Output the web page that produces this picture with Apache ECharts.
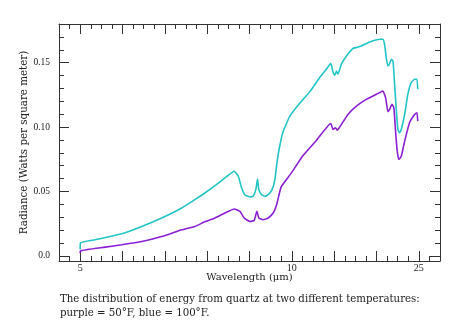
<!DOCTYPE html>
<html>
<head>
<meta charset="utf-8">
<script src="https://cdn.jsdelivr.net/npm/echarts@6/dist/echarts.min.js"></script>
<style>
  html, body { margin: 0; padding: 0; background: #fff; }
  #chart { width: 474px; height: 331px; }
</style>
</head>
<body>
<div id="chart"></div>
<script>
// Emission spectrum of quartz, radiance vs. wavenumber (cm^-1); the axis is labelled in wavelength (µm).
// Each entry: [wavenumber cm^-1, radiance W/m^2]

// blue curve, 100°F
const quartz100F = [
  [2000, 0.0050], [1999, 0.0099], [1929, 0.0125], [1803, 0.0171], [1709, 0.0228],
  [1615, 0.0294], [1520, 0.0372], [1458, 0.0436], [1411, 0.0488], [1363, 0.0545],
  [1316, 0.0605], [1272, 0.0657], [1253, 0.0618], [1237, 0.0527], [1222, 0.0475],
  [1198, 0.0457], [1183, 0.0462], [1170, 0.0514], [1162, 0.0597], [1156, 0.0514],
  [1143, 0.0475], [1128, 0.0462], [1112, 0.0475], [1093, 0.0514], [1080, 0.0592],
  [1072, 0.0700], [1062, 0.0810], [1043, 0.0956], [1010, 0.1083], [963, 0.1184],
  [915, 0.1275], [868, 0.1384], [837, 0.1449], [816, 0.1495], [805, 0.1423],
  [797, 0.1402], [789, 0.1435], [782, 0.1410], [766, 0.1488], [742, 0.1552],
  [711, 0.1610], [695, 0.1618], [672, 0.1630], [632, 0.1661], [585, 0.1682],
  [570, 0.1682], [562, 0.1643], [554, 0.1540], [546, 0.1474], [538, 0.1493],
  [530, 0.1526], [522, 0.1513], [515, 0.1345], [506, 0.1124], [499, 0.0981],
  [491, 0.0956], [483, 0.0981], [467, 0.1098], [452, 0.1254], [436, 0.1345],
  [420, 0.1371], [409, 0.1371], [405, 0.1293]
];

// purple curve, 50°F
const quartz50F = [
  [2000, 0.0020], [1999, 0.0039], [1882, 0.0068], [1803, 0.0086], [1709, 0.0111],
  [1615, 0.0150], [1520, 0.0202], [1458, 0.0228], [1411, 0.0265], [1363, 0.0294],
  [1316, 0.0333], [1272, 0.0364], [1245, 0.0345], [1225, 0.0294], [1198, 0.0267],
  [1178, 0.0275], [1165, 0.0345], [1156, 0.0294], [1136, 0.0280], [1112, 0.0294],
  [1088, 0.0333], [1072, 0.0397], [1057, 0.0498], [1049, 0.0540], [1002, 0.0644],
  [947, 0.0779], [884, 0.0896], [816, 0.1028], [805, 0.0981], [794, 0.0995],
  [785, 0.0976], [771, 0.1007], [735, 0.1098], [695, 0.1163], [648, 0.1215],
  [585, 0.1267], [570, 0.1280], [557, 0.1228], [546, 0.1119], [538, 0.1137],
  [527, 0.1176], [518, 0.1150], [510, 0.0968], [502, 0.0812], [494, 0.0748],
  [483, 0.0773], [467, 0.0890], [444, 0.1033], [420, 0.1098], [409, 0.1111],
  [405, 0.1046]
];

// axis ticks
const xLabelWavelengths = [5, 10, 25];                       // µm, labelled
const xMajorWavenumbers = [400, 600, 800, 1000, 1200, 1400, 1600, 1800, 2000];
const xMinorWavenumbers = [350, 450, 500, 550, 650, 700, 750, 850, 900, 950,
  1050, 1100, 1150, 1250, 1300, 1350, 1450, 1500, 1550, 1650, 1700, 1750,
  1850, 1900, 1950, 2050];
const yTickValues = [0, 0.05, 0.10, 0.15];
const yTickLabels = ['0.0', '0.05', '0.10', '0.15'];
const yMinorValues = [0.01, 0.02, 0.03, 0.04, 0.06, 0.07, 0.08, 0.09,
  0.11, 0.12, 0.13, 0.14, 0.16, 0.17];

const captionLines = [
  'The distribution of energy from quartz at two different temperatures:',
  'purple = 50°F, blue = 100°F.'
];

const FONT = 'DejaVu Serif';
const TICK_FONT = 'Liberation Serif';
const INK = '#222';
const frameStyle = { color: '#333', width: 1 };

function xAxisDef(position, ticks, len, withLine, withLabels) {
  return {
    type: 'value', min: 300, max: 2100, inverse: true, position: position,
    axisLine: { show: withLine, onZero: false, lineStyle: frameStyle },
    axisTick: { show: true, inside: true, length: len, customValues: ticks, lineStyle: frameStyle },
    axisLabel: withLabels ? {
      show: true, customValues: xLabelWavelengths.map(l => 10000 / l),
      formatter: v => String(Math.round(10000 / v)),
      margin: 2, fontFamily: TICK_FONT, fontSize: 10, color: INK
    } : { show: false },
    splitLine: { show: false },
    name: withLabels ? 'Wavelength (μm)' : '',
    nameLocation: 'middle', nameGap: 11, nameMoveOverlap: false,
    nameTextStyle: { fontFamily: FONT, fontSize: 10, color: INK }
  };
}

function yAxisDef(position, ticks, len, withLine, withLabels) {
  return {
    type: 'value', min: -0.004, max: 0.18, position: position,
    axisLine: { show: withLine, onZero: false, lineStyle: frameStyle },
    axisTick: { show: true, inside: true, length: len, customValues: ticks, lineStyle: frameStyle },
    axisLabel: withLabels ? {
      show: true, customValues: yTickValues,
      formatter: v => {
        const i = yTickValues.findIndex(t => Math.abs(t - v) < 1e-9);
        return i >= 0 ? yTickLabels[i] : '';
      },
      margin: 9, fontFamily: TICK_FONT, fontSize: 9.5, color: INK
    } : { show: false },
    splitLine: { show: false },
    name: withLabels ? 'Radiance (Watts per square meter)' : '',
    nameLocation: 'middle', nameGap: 30, nameRotate: 90, nameMoveOverlap: false,
    nameTextStyle: { fontFamily: FONT, fontSize: 10.3, color: INK }
  };
}

const chart = echarts.init(document.getElementById('chart'), null, { renderer: 'canvas' });
chart.setOption({
  animation: false,
  backgroundColor: '#fff',
  grid: { left: 59, top: 24, width: 381, height: 237 },
  xAxis: [
    xAxisDef('bottom', xMajorWavenumbers, 10, true, true),
    xAxisDef('bottom', xMinorWavenumbers, 5, false, false),
    xAxisDef('top', xMajorWavenumbers, 10, true, false),
    xAxisDef('top', xMinorWavenumbers, 5, false, false)
  ],
  yAxis: [
    yAxisDef('left', yTickValues, 10, true, true),
    yAxisDef('left', yMinorValues, 5, false, false),
    yAxisDef('right', yTickValues, 10, true, false),
    yAxisDef('right', yMinorValues, 5, false, false)
  ],
  series: [
    {
      name: '100°F', type: 'line', data: quartz100F, xAxisIndex: 0, yAxisIndex: 0,
      showSymbol: false, smooth: 0.15,
      lineStyle: { color: '#22c4c6', width: 1.6 }
    },
    {
      name: '50°F', type: 'line', data: quartz50F, xAxisIndex: 0, yAxisIndex: 0,
      showSymbol: false, smooth: 0.15,
      lineStyle: { color: '#8a1fd4', width: 1.6 }
    }
  ],
  graphic: [
    {
      type: 'text', left: 60, top: 292,
      style: {
        text: captionLines.join('\n'), fill: INK,
        font: '10.2px "' + FONT + '"', lineHeight: 14
      }
    }
  ]
});
</script>
</body>
</html>
